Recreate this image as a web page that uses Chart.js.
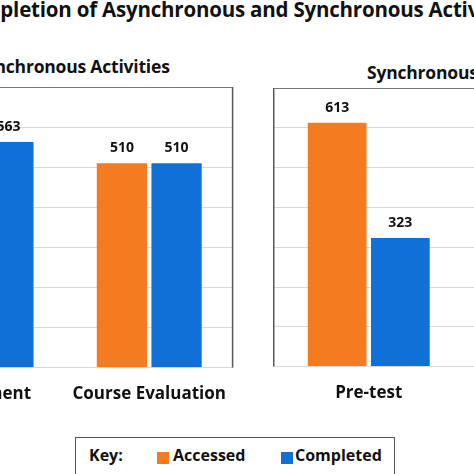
<!DOCTYPE html>
<html>
<head>
<meta charset="utf-8">
<script src="https://cdn.jsdelivr.net/npm/chart.js@4"></script>
<style>
  html, body { margin: 0; padding: 0; background: #fff; }
  body { width: 474px; height: 474px; position: relative; overflow: hidden; font-family: "Open Sans", Lato, sans-serif; color: #111; }
  .t { position: absolute; font-weight: bold; white-space: nowrap; }
  #main { top: -5px; font-size: 20.5px; letter-spacing: -0.2px; }
  #tA { left: -103px; width: 340px; top: 54px; text-align: center; font-size: 17.5px; letter-spacing: -0.2px; }
  #tS { left: 367px; top: 60px; font-size: 17.5px; letter-spacing: -0.2px; }
  canvas { position: absolute; }
  #key { position: absolute; left: 75px; top: 437px; width: 320px; height: 40px; border: 1.5px solid #555; box-sizing: border-box; font-weight: bold; font-size: 16px; }
  #key span { position: absolute; top: 6px; }
  .sw { display: inline-block; width: 12px; height: 12px; position: absolute; top: 14px; }
</style>
</head>
<body>
<div id="main" class="t"><span id="com">Com</span>pletion of Asynchronous and Synchronous Activities</div>
<div id="tA" class="t">Asynchronous Activities</div>
<div id="tS" class="t">Synchronous Activities</div>
<div style="position:absolute;left:-103px;top:87px;width:345px;height:333px"><canvas id="cA"></canvas></div>
<div style="position:absolute;left:273px;top:88px;width:383px;height:331px"><canvas id="cS"></canvas></div>
<div id="key">
  <span style="left:13px">Key:</span>
  <i class="sw" style="left:81px;background:#f47c20"></i><span style="left:97px">Accessed</span>
  <i class="sw" style="left:205px;background:#1170d6"></i><span style="left:219px">Completed</span>
</div>
<script>
// --- data ---
const asyncCategories = ["Assignment", "Course Evaluation"];
const asyncAccessed = [null, 510];   // first bar is cropped out of the picture
const asyncCompleted = [563, 510];

const syncCategories = ["Pre-test", ""];
const syncAccessed = [613, null];
const syncCompleted = [323, null];

const seriesNames = ["Accessed", "Completed"];
const colors = ["#f47c20", "#1170d6"];

// shift main title so "Com" falls off the left edge
document.getElementById("main").style.left = -document.getElementById("com").offsetWidth + "px";

const boxPlugin = {
  id: "box",
  afterDraw(chart) {
    const { ctx, chartArea: a } = chart;
    ctx.save();
    ctx.strokeStyle = "#595959";
    ctx.lineWidth = 1.5;
    ctx.beginPath();
    ctx.moveTo(a.left + 0.75, a.bottom);
    ctx.lineTo(a.left + 0.75, a.top);
    ctx.lineTo(a.right - 0.75, a.top);
    ctx.lineTo(a.right - 0.75, a.bottom);
    ctx.stroke();
    // value labels
    ctx.fillStyle = "#111";
    ctx.font = "bold 14px 'Open Sans', Lato, sans-serif";
    ctx.textAlign = "center";
    ctx.textBaseline = "bottom";
    chart.data.datasets.forEach((ds, i) => {
      chart.getDatasetMeta(i).data.forEach((bar, j) => {
        if (ds.data[j] == null) return;
        ctx.fillText(ds.data[j], bar.x, bar.y - 8);
      });
    });
    ctx.restore();
  }
};

function makeChart(id, labels, acc, comp, catPct, barPct) {
  return new Chart(document.getElementById(id), {
    type: "bar",
    data: {
      labels,
      datasets: [
        { label: seriesNames[0], data: acc, backgroundColor: colors[0], categoryPercentage: catPct, barPercentage: barPct },
        { label: seriesNames[1], data: comp, backgroundColor: colors[1], categoryPercentage: catPct, barPercentage: barPct }
      ]
    },
    options: {
      responsive: true, maintainAspectRatio: false, animation: false,
      layout: { padding: 0 },
      plugins: { legend: { display: false }, tooltip: { enabled: false } },
      scales: {
        x: {
          grid: { display: false, drawTicks: false },
          border: { color: "#d9d9d9" },
          ticks: { color: "#111", padding: 16, font: { size: 17, weight: "bold", family: "'Open Sans'" } }
        },
        y: {
          min: 0, max: 700,
          ticks: { display: false, stepSize: 100 },
          grid: { color: "#d9d9d9", drawTicks: false },
          border: { display: false }
        }
      }
    },
    plugins: [boxPlugin]
  });
}

makeChart("cA", asyncCategories, asyncAccessed, asyncCompleted, 0.65, 0.92);
makeChart("cS", syncCategories, syncAccessed, syncCompleted, 0.66, 0.93);
</script>
</body>
</html>
